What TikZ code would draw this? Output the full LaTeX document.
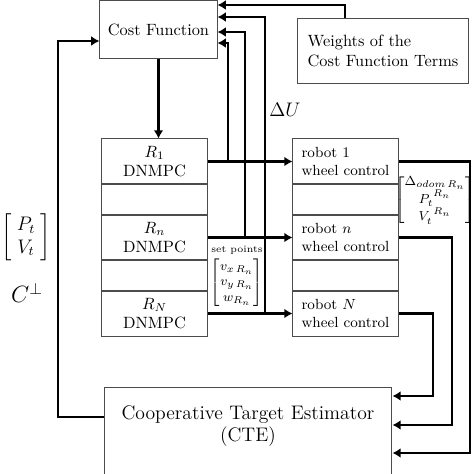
\documentclass[tikz,border=0pt]{standalone}
\usepackage{amsmath}
\usetikzlibrary{arrows.meta}

\begin{document}
\begin{tikzpicture}[
    x=0.0215cm, y=-0.0215cm,
    box/.style={draw=black!70, line width=0.6pt, inner sep=0pt},
    mpc/.style={box, minimum width=2.26cm, minimum height=0.97cm, align=center},
    wheel/.style={box, minimum width=2.26cm, minimum height=0.97cm, font=\small, align=left},
    gapcell/.style={box, minimum width=2.26cm, minimum height=0.67cm},
    link/.style={line width=1.5pt, -{Latex[length=5pt,width=6pt]}}
  ]
  \path[use as bounding box, clip] (0,0) rectangle (474,474);

  % top blocks
  \node[box, minimum width=2.52cm, minimum height=1.23cm] (cost) at (158.5,29.5) {Cost Function};
  \node[box, minimum width=3.66cm, minimum height=1.38cm, align=left]
    (weights) at (383,51) {Weights of the\\Cost Function Terms};

  % controller stacks
  \foreach \nm/\yy/\txt in {one/161.5/{$R_1$\\DNMPC}, n/237.5/{$R_n$\\DNMPC}, N/313.5/{$R_N$\\DNMPC}}
    \node[mpc] (mpc\nm) at (154.5,\yy) {\txt};
  \foreach \nm/\yy/\lab in {one/161.5/1, n/237.5/$n$, N/313.5/$N$}
    \node[wheel] (whl\nm) at (345.5,\yy) {robot \lab\\wheel control};
  \foreach \i/\yy in {1/199.5, 2/275.5} {
    \node[gapcell] (mpcgap\i) at (154.5,\yy) {};
    \node[gapcell] (whlgap\i) at (345.5,\yy) {};
  }

  % estimator
  \node[box, anchor=north, minimum width=6.19cm, minimum height=2.3cm] (cte) at (248,387) {};
  \node[font=\large, align=center] (ctelabel) at (248,426) {Cooperative Target Estimator\\(CTE)};

  % set points
  \draw[link] (cost.south) -- (cost.south |- mpcone.north);
  \draw[link] (mpcone.east) -- (whlone.west);
  \draw[link] (mpcn.east) -- (whln.west);
  \draw[link] (mpcN.east) -- (whlN.west);

  % back to the cost function
  \draw[link] (mpcone.east -| 228,0) |- (cost.east |- 0,43);
  \draw[link] (mpcn.east -| 245,0) |- (cost.east |- 0,32);
  \draw[link] (mpcN.east -| 265,0) |- (cost.east |- 0,17);
  \draw[link] (weights.north -| 345,0) |- (cost.east |- 0,5);

  % odometry to the estimator
  \draw[link] (whlone.east) -| (470,453) -- (cte.east |- 0,453);
  \draw[link] (whln.east) -| (452,425) -- (cte.east |- 0,425);
  \draw[link] (whlN.east) -| (433,396) -- (cte.east |- 0,396);
  \draw[link] (cte.west |- 0,417) -| (58,41) -- (cost.west |- 0,41);

  % labels
  \node[font=\large] (du) at (285,110) {$\Delta U$};
  \node[font=\footnotesize, align=center, inner sep=0pt] (setpts) at (237,276)
    {{\fontsize{6}{7}\selectfont set points}\\[2pt]
     $\begin{bmatrix} v_{x\,R_n}\\ v_{y\,R_n}\\ w_{R_n}\end{bmatrix}$};
  \node[font=\footnotesize] (odom) at (435,200)
    {$\begin{bmatrix}\Delta_{odom\,R_n}\\ P_t^{\;R_n}\\ V_t^{\;R_n}\end{bmatrix}$};
  \node[font=\large] (state) at (26,237) {$\left[\;\begin{matrix}P_t\\ V_t\end{matrix}\;\right]$};
  \node[font=\Large] (cperp) at (27,293) {$C^{\perp}$};
\end{tikzpicture}
\end{document}
